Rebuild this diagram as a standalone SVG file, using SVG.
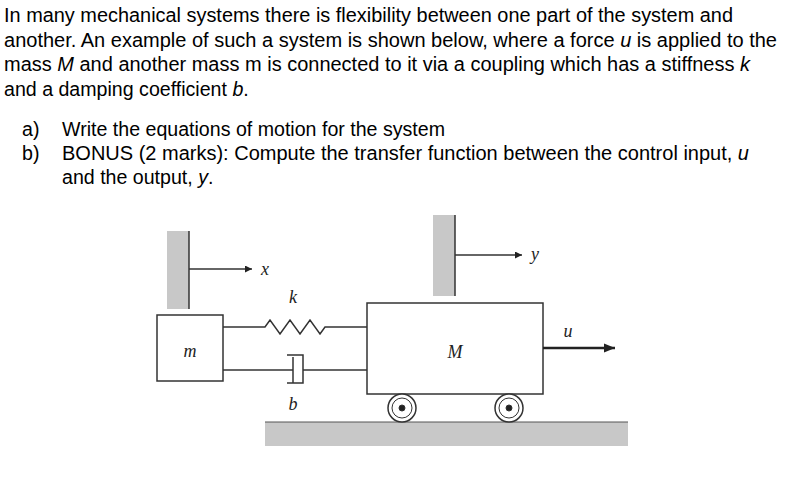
<svg xmlns="http://www.w3.org/2000/svg" width="785" height="480" viewBox="0 0 785 480">
<style>
.t{font-family:"Liberation Sans",Arial,sans-serif;font-size:19.6px;fill:#000}
.s{font-family:"Liberation Serif","Times New Roman",serif;font-style:italic;font-size:18px;fill:#222}
.l{stroke:#333;stroke-width:1.5;fill:none}
.w{fill:#c8c8c8}
</style>
<defs><marker id="a" viewBox="0 0 10 10" refX="10" refY="5" markerWidth="7" markerHeight="7" orient="auto" markerUnits="userSpaceOnUse"><path d="M0,0L10,5L0,10z" fill="#222"/></marker>
<marker id="b" viewBox="0 0 10 10" refX="10" refY="5" markerWidth="11" markerHeight="11" orient="auto" markerUnits="userSpaceOnUse"><path d="M0,1L10,5L0,9z" fill="#222"/></marker></defs>
<rect width="785" height="480" fill="#fff"/>
<g id="text">
<text class="t" x="4" y="22" textLength="729" lengthAdjust="spacingAndGlyphs">In many mechanical systems there is flexibility between one part of the system and</text>
<text class="t" x="4" y="47" textLength="773" lengthAdjust="spacingAndGlyphs">another. An example of such a system is shown below, where a force <tspan font-style="italic">u</tspan> is applied to the</text>
<text class="t" x="4" y="71" textLength="746" lengthAdjust="spacingAndGlyphs">mass <tspan font-style="italic">M</tspan> and another mass m is connected to it via a coupling which has a stiffness <tspan font-style="italic">k</tspan></text>
<text class="t" x="4" y="96">and a damping coefficient <tspan font-style="italic">b</tspan>.</text>
<text class="t" x="22" y="136">a)</text><text class="t" x="62" y="136">Write the equations of motion for the system</text>
<text class="t" x="22" y="160">b)</text><text class="t" x="62" y="160" textLength="687" lengthAdjust="spacingAndGlyphs">BONUS (2 marks): Compute the transfer function between the control input, <tspan font-style="italic">u</tspan></text>
<text class="t" x="62" y="184">and the output, <tspan font-style="italic">y</tspan>.</text>
</g>
<g id="ground"><rect class="w" x="265" y="422" width="363" height="24"/><line x1="265" y1="422" x2="628" y2="422" stroke="#555" stroke-width="1"/></g>
<g id="wall-x"><rect class="w" x="167" y="231" width="22" height="78"/><line x1="189" y1="231" x2="189" y2="309" stroke="#333" stroke-width="1.5"/></g>
<g id="wall-y"><rect class="w" x="433" y="215" width="22" height="81"/><line x1="455" y1="215" x2="455" y2="296" stroke="#333" stroke-width="1.5"/></g>
<g id="mass-m"><rect class="l" x="157" y="315" width="66" height="66" fill="#fff"/><text class="s" x="190" y="357" text-anchor="middle">m</text></g>
<g id="mass-M"><rect class="l" x="367" y="303" width="176" height="91" fill="#fff"/><text class="s" x="455" y="358" text-anchor="middle">M</text></g>
<g id="wheels" stroke="#333" fill="#fff">
<circle cx="402" cy="408" r="14" stroke-width="1.5"/><circle cx="402" cy="408" r="10" stroke-width="1"/><circle cx="402" cy="408" r="3" fill="#222"/>
<circle cx="509" cy="408" r="14" stroke-width="1.5"/><circle cx="509" cy="408" r="10" stroke-width="1"/><circle cx="509" cy="408" r="3" fill="#222"/>
</g>
<g id="connectors">
<line class="l" x1="189" y1="269" x2="252" y2="269" marker-end="url(#a)"/>
<line class="l" x1="455" y1="255" x2="522" y2="255" marker-end="url(#a)"/>
<line x1="543" y1="348" x2="615" y2="348" stroke="#222" stroke-width="2.5" marker-end="url(#b)"/>
<polyline class="l" points="223,327 265,327 270,320 280,334 290,320 300,334 310,320 320,334 325,327 367,327"/>
<polyline class="l" points="223,370 293,370"/>
<line class="l" x1="293" y1="357" x2="293" y2="383"/>
<polyline class="l" points="287,355 303,355 303,383 287,383"/>
<line class="l" x1="303" y1="370" x2="367" y2="370"/>
</g>
<g id="labels">
<text class="s" x="265" y="275" text-anchor="middle">x</text>
<text class="s" x="535" y="260" text-anchor="middle">y</text>
<text class="s" x="293" y="303" text-anchor="middle">k</text>
<text class="s" x="293" y="410" text-anchor="middle">b</text>
<text class="s" x="568" y="337" text-anchor="middle">u</text>
</g>
</svg>
